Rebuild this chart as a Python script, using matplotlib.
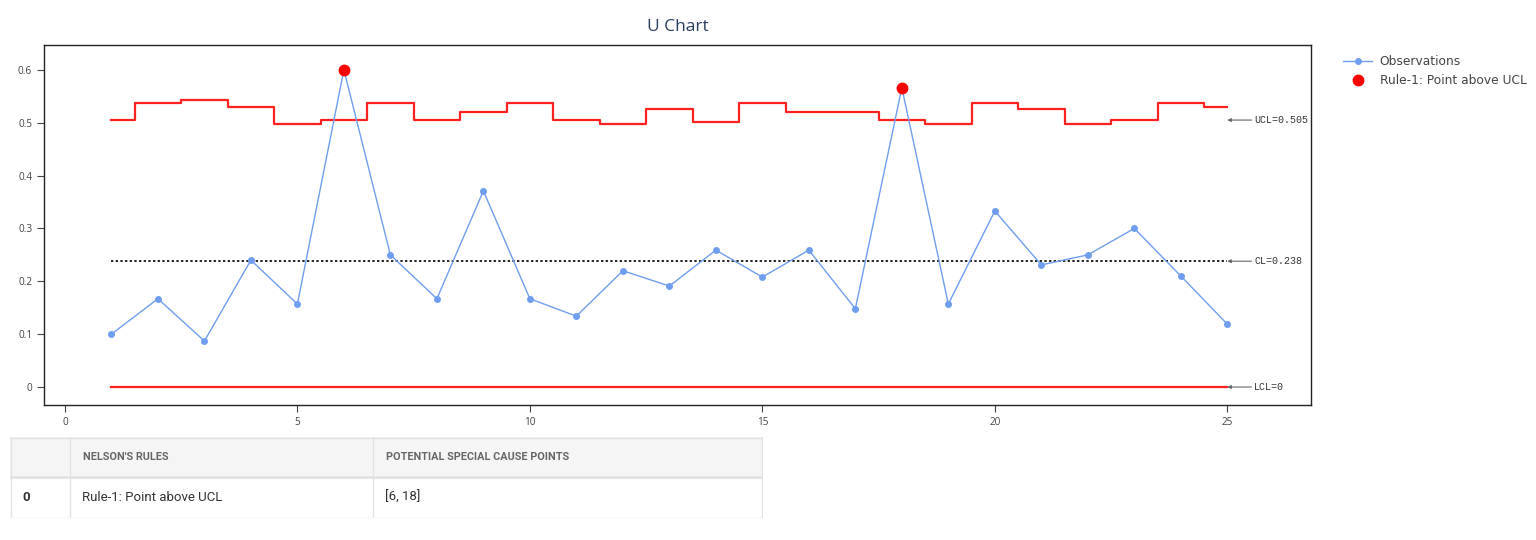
import matplotlib
matplotlib.use("Agg")
import matplotlib.pyplot as plt
from matplotlib.patches import Rectangle

plt.rcParams["font.family"] = ["Open Sans", "DejaVu Sans"]

# --- data ---
samples = list(range(1, 26))
observations = [0.100, 0.167, 0.087, 0.240, 0.157, 0.600, 0.250, 0.167, 0.371, 0.167,
                0.134, 0.220, 0.191, 0.259, 0.208, 0.259, 0.148, 0.566, 0.157, 0.333,
                0.231, 0.250, 0.300, 0.210, 0.119]
ucl = [0.505, 0.538, 0.543, 0.530, 0.498, 0.505, 0.538, 0.505, 0.520, 0.538,
       0.505, 0.498, 0.526, 0.502, 0.538, 0.520, 0.520, 0.505, 0.498, 0.538,
       0.526, 0.498, 0.505, 0.538, 0.530]
center_line = 0.238
lcl_value = 0
ucl_label_value = 0.505
rule_points = [6, 18]
rule_name = "Rule-1: Point above UCL"

table_headers = ["", "NELSON'S RULES", "POTENTIAL SPECIAL CAUSE POINTS"]
table_rows = [["0", rule_name, "[" + ", ".join(str(p) for p in rule_points) + "]"]]

W, H = 1536, 540
fig = plt.figure(figsize=(W / 100, H / 100), dpi=100)
fig.patch.set_facecolor("white")

# main chart axes (pixel box: 44..1311 x 45..405)
ax = fig.add_axes([44 / W, (H - 405) / H, (1311 - 44) / W, 360 / H])

ax.step(samples, ucl, where="mid", color="#ff2020", lw=1.6, zorder=2)
ax.plot([samples[0], samples[-1]], [lcl_value, lcl_value], color="#ff2020", lw=1.6, zorder=2)
ax.plot([samples[0], samples[-1]], [center_line, center_line], color="#222222",
        lw=1.4, linestyle=(0, (1.2, 1.2)), zorder=2)

obs_line, = ax.plot(samples, observations, color="#6f9ef0", lw=1.0, marker="o",
                    markersize=4, zorder=3, label="Observations")
rule_y = [observations[p - 1] for p in rule_points]
rule_mk, = ax.plot(rule_points, rule_y, linestyle="none", marker="o", color="#ff0000",
                   markersize=7.5, zorder=4, label=rule_name)

# arrows + labels at the right end
for name, val in [("UCL", ucl_label_value), ("CL", center_line), ("LCL", lcl_value)]:
    ax.annotate(f"{name}={val:g}", xy=(samples[-1], val), xytext=(27, 0),
                textcoords="offset pixels", ha="left", va="center",
                fontsize=7.2, family="Liberation Mono", color="#333333",
                arrowprops=dict(arrowstyle="-|>", color="#666666", lw=0.8,
                                mutation_scale=5, shrinkA=0, shrinkB=0))

ax.set_xlim(-0.45, 26.8)
ax.set_ylim(-0.034, 0.647)
ax.set_xticks([0, 5, 10, 15, 20, 25])
ax.set_yticks([0, 0.1, 0.2, 0.3, 0.4, 0.5, 0.6])
ax.set_yticklabels(["0", "0.1", "0.2", "0.3", "0.4", "0.5", "0.6"])
ax.tick_params(labelsize=7.2, colors="#444444", length=5, width=0.8, direction="out")
for s in ax.spines.values():
    s.set_color("#222222")
    s.set_linewidth(1.0)

fig.text(678 / W, 1 - 27 / H, "U Chart", ha="center", va="center",
         fontsize=12.5, color="#2a3f5f")

fig.legend(handles=[obs_line, rule_mk], loc="upper left",
           bbox_to_anchor=(1338 / W, 1 - 50 / H), frameon=False,
           prop={"family": "DejaVu Sans", "size": 8.8}, labelcolor="#444444",
           handlelength=2.4, borderaxespad=0, labelspacing=0.5, handletextpad=0.6)

# --- table below chart ---
tx0, ty0, tx1, ty1 = 10, 437, 763, 518
tab = fig.add_axes([tx0 / W, (H - ty1) / H, (tx1 - tx0) / W, (ty1 - ty0) / H])
tab.set_xlim(0, tx1 - tx0)
tab.set_ylim(ty1 - ty0, 0)
tab.axis("off")
col_x = [0, 60, 363, tx1 - tx0]
head_h = 40
tab.add_patch(Rectangle((0, 0), col_x[-1], head_h, facecolor="#f5f5f5",
                        edgecolor="none"))
border = "#e2e2e2"
tab.plot([0, col_x[-1]], [0.5, 0.5], color=border, lw=1)
tab.plot([0, col_x[-1]], [head_h, head_h], color=border, lw=2)
tab.plot([0, col_x[-1]], [ty1 - ty0 - 0.5, ty1 - ty0 - 0.5], color=border, lw=1)
for cx in col_x:
    xx = min(max(cx, 0.5), col_x[-1] - 0.5)
    tab.plot([xx, xx], [0, ty1 - ty0], color=border, lw=1)

for i, txt in enumerate(table_headers):
    tab.text(col_x[i] + 13, head_h / 2, txt, ha="left", va="center",
             fontsize=7.8, fontweight="bold", color="#666666", family="Roboto")
for r, row in enumerate(table_rows):
    yc = head_h + 20.5 + r * 41
    for i, txt in enumerate(row):
        tab.text(col_x[i] + 12, yc, txt, ha="left", va="center", fontsize=9.5,
                 color="#333333", family="Roboto",
                 fontweight="bold" if i == 0 else "normal")

fig.savefig("out.png", dpi=100)
